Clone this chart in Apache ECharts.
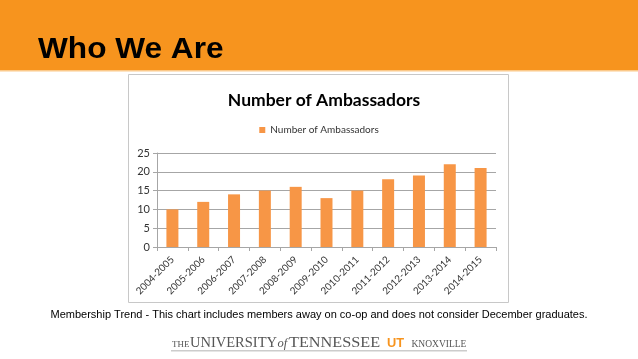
<!DOCTYPE html>
<html><head><meta charset="utf-8">
<style>html,body{margin:0;padding:0;background:#fff;}#c{width:638px;height:359px;}</style>
<script src="https://cdn.jsdelivr.net/npm/echarts@6/dist/echarts.min.js"></script>
</head><body><div id="c"></div>
<script>
const categories = ["2004-2005","2005-2006","2006-2007","2007-2008","2008-2009","2009-2010","2010-2011","2011-2012","2012-2013","2013-2014","2014-2015"];
const ambassadors = [10,12,14,15,16,13,15,18,19,22,21];
const seriesName = "Number of Ambassadors";
const chartTitle = "Number of Ambassadors";
const slideTitle = "Who We Are";
const caption = "Membership Trend - This chart includes members away on co-op and does not consider December graduates.";

const chart = echarts.init(document.getElementById('c'), null, {renderer:'canvas'});
const lblFont = 'Lato, "Open Sans", sans-serif';
const serif = '"Liberation Serif", "DejaVu Serif", serif';
function bl(base, size){ return base - 0.34*size; }
chart.setOption({
  animation:false,
  backgroundColor:'#ffffff',
  title:{text:chartTitle,left:319,textAlign:'center',top:86,
    textStyle:{fontFamily:lblFont,fontSize:17.5,fontWeight:'bold',color:'#000'}},
  legend:{top:120,left:'center',icon:'rect',itemWidth:6,itemHeight:6,itemGap:5,
    data:[seriesName],
    textStyle:{fontFamily:lblFont,fontSize:10,color:'#333'}},
  grid:{left:157,right:142,top:153,bottom:112,containLabel:false},
  xAxis:{type:'category',data:categories,
    axisLine:{lineStyle:{color:'#a6a6a6',width:1}},
    axisTick:{show:true,length:4,lineStyle:{color:'#a6a6a6'}},
    axisLabel:{rotate:45,margin:11,interval:0,fontFamily:lblFont,fontSize:9.8,color:'#333'}},
  yAxis:{type:'value',min:0,max:25,interval:5,
    axisLine:{show:true,lineStyle:{color:'#a6a6a6'}},
    axisTick:{show:true,length:4,lineStyle:{color:'#a6a6a6'}},
    splitLine:{lineStyle:{color:'#a6a6a6',width:1}},
    axisLabel:{margin:7,fontFamily:lblFont,fontSize:11,color:'#333'}},
  series:[{name:seriesName,type:'bar',data:ambassadors,barWidth:12,
    itemStyle:{color:'#F79646'}}],
  graphic:[
    {type:'rect',z:-10,shape:{x:0,y:0,width:638,height:70},style:{fill:'#F7941E'}},
    {type:'rect',z:-10,shape:{x:0,y:70,width:638,height:1.5},style:{fill:'#FBC98A'}},
    {type:'text',x:38,y:bl(60,29),scaleX:1.09,style:{text:slideTitle,font:'bold 29px "Liberation Sans", Arial, sans-serif',fill:'#000',textVerticalAlign:'middle'}},
    {type:'rect',z:-5,shape:{x:128.5,y:74.5,width:380,height:228},style:{fill:'#fff',stroke:'#c8c8c8',lineWidth:1}},
    {type:'text',x:319,y:315,style:{text:caption,font:'11px "Liberation Sans", Arial, sans-serif',fill:'#000',textAlign:'center',textVerticalAlign:'middle'}},
    {type:'text',x:172,y:bl(348,8.5),scaleX:1.05,style:{text:'THE',font:'8.5px '+serif,fill:'#555',textVerticalAlign:'middle'}},
    {type:'text',x:190,y:bl(348,14.5),style:{text:'UNIVERSITY',font:'14.5px '+serif,fill:'#555',textVerticalAlign:'middle'}},
    {type:'text',x:277.5,y:bl(348,12.5),style:{text:'of',font:'italic 12.5px '+serif,fill:'#555',textVerticalAlign:'middle'}},
    {type:'text',x:289,y:bl(348,14.5),scaleX:1.12,style:{text:'TENNESSEE',font:'14.5px '+serif,fill:'#555',textVerticalAlign:'middle'}},
    {type:'text',x:387,y:bl(348,13.5),scaleX:0.95,style:{text:'UT',font:'bold 13.5px "Liberation Sans", sans-serif',fill:'#F7941E',textVerticalAlign:'middle'}},
    {type:'text',x:411.5,y:bl(348,9.5),style:{text:'KNOXVILLE',font:'9.5px '+serif,fill:'#555',textVerticalAlign:'middle'}},
    {type:'rect',shape:{x:171,y:350.5,width:296,height:0.8},style:{fill:'#999'}}
  ]
});
</script></body></html>
